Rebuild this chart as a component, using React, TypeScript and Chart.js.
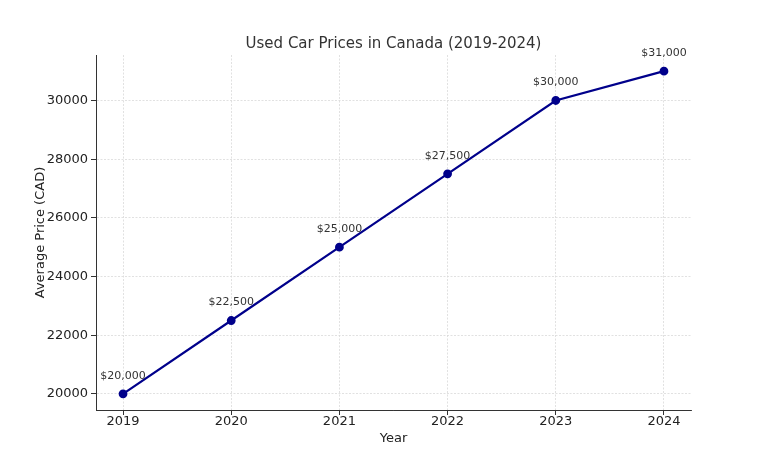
import React, { useEffect, useRef } from 'react';
import { Chart, registerables } from 'chart.js';

Chart.register(...registerables);

const years = [2019, 2020, 2021, 2022, 2023, 2024];
const prices = [20000, 22500, 25000, 27500, 30000, 31000];
const priceLabels = ['$20,000', '$22,500', '$25,000', '$27,500', '$30,000', '$31,000'];
const yTicks = [20000, 22000, 24000, 26000, 28000, 30000];
const chartTitle = 'Used Car Prices in Canada (2019-2024)';

const lineColor = '#00008B';
const font = 'DejaVu Sans';

// price text above each point, and the title centred over the plot area
const extras = {
  id: 'extras',
  afterDatasetsDraw(chart: Chart) {
    const ctx = chart.ctx;
    const meta = chart.getDatasetMeta(0);
    const area = chart.chartArea;
    ctx.save();
    ctx.font = `11px "${font}"`;
    ctx.fillStyle = '#333333';
    ctx.textAlign = 'center';
    ctx.textBaseline = 'middle';
    meta.data.forEach((pt, i) => {
      ctx.fillText(priceLabels[i], pt.x, pt.y - 18);
    });
    ctx.font = `15px "${font}"`;
    ctx.fillText(chartTitle, (area.left + area.right) / 2, area.top - 11);
    ctx.restore();
  },
};

const App: React.FC = () => {
  const canvasRef = useRef<HTMLCanvasElement>(null);
  const chartRef = useRef<Chart>();

  useEffect(() => {
    if (!canvasRef.current) return;
    const ctx = canvasRef.current.getContext('2d');
    if (!ctx) return;

    const grid = {
      color: '#d9d9d9',
      lineWidth: 0.8,
      tickColor: '#333333',
      tickBorderDash: [],
      tickLength: 5,
      tickWidth: 1,
    };
    const border = { display: true, color: '#333333', width: 1, dash: [2, 1.5] };

    chartRef.current = new Chart(ctx, {
      type: 'line',
      data: {
        datasets: [
          {
            label: 'Price',
            data: years.map((y, i) => ({ x: y, y: prices[i] })),
            borderColor: lineColor,
            backgroundColor: lineColor,
            borderWidth: 2.2,
            pointRadius: 3.3,
            pointHoverRadius: 3.3,
            tension: 0,
          },
        ],
      },
      options: {
        responsive: false,
        animation: false,
        layout: { padding: { left: 33, right: 77, top: 55, bottom: 15 } },
        plugins: {
          legend: { display: false },
          tooltip: { enabled: false },
          title: { display: false },
        },
        scales: {
          x: {
            type: 'linear',
            min: 2018.75,
            max: 2024.25,
            afterBuildTicks: (scale: any) => {
              scale.ticks = years.map((v) => ({ value: v }));
            },
            afterFit: (scale: any) => {
              scale.height = 36;
            },
            ticks: {
              color: '#222222',
              font: { family: font, size: 13 },
              padding: -1,
              callback: (v: any) => String(v),
            },
            grid,
            border,
            title: {
              display: true,
              text: 'Year',
              color: '#222222',
              font: { family: font, size: 13 },
              padding: { top: 0, bottom: 0 },
            },
          },
          y: {
            type: 'linear',
            min: 19450,
            max: 31550,
            afterBuildTicks: (scale: any) => {
              scale.ticks = yTicks.map((v) => ({ value: v }));
            },
            afterFit: (scale: any) => {
              scale.width = 63;
            },
            ticks: {
              color: '#222222',
              font: { family: font, size: 13 },
              padding: 3,
              callback: (v: any) => String(v),
            },
            grid,
            border,
            title: {
              display: true,
              text: 'Average Price (CAD)',
              color: '#222222',
              font: { family: font, size: 13 },
              padding: { top: 0, bottom: 0 },
            },
          },
        },
      },
      plugins: [extras],
    });

    return () => {
      if (chartRef.current) {
        chartRef.current.destroy();
      }
    };
  }, []);

  return (
    <div style={{ position: 'fixed', left: 0, top: 0, width: 768, height: 461, background: '#fff' }}>
      <canvas ref={canvasRef} width={768} height={461} />
    </div>
  );
};

export default App;
